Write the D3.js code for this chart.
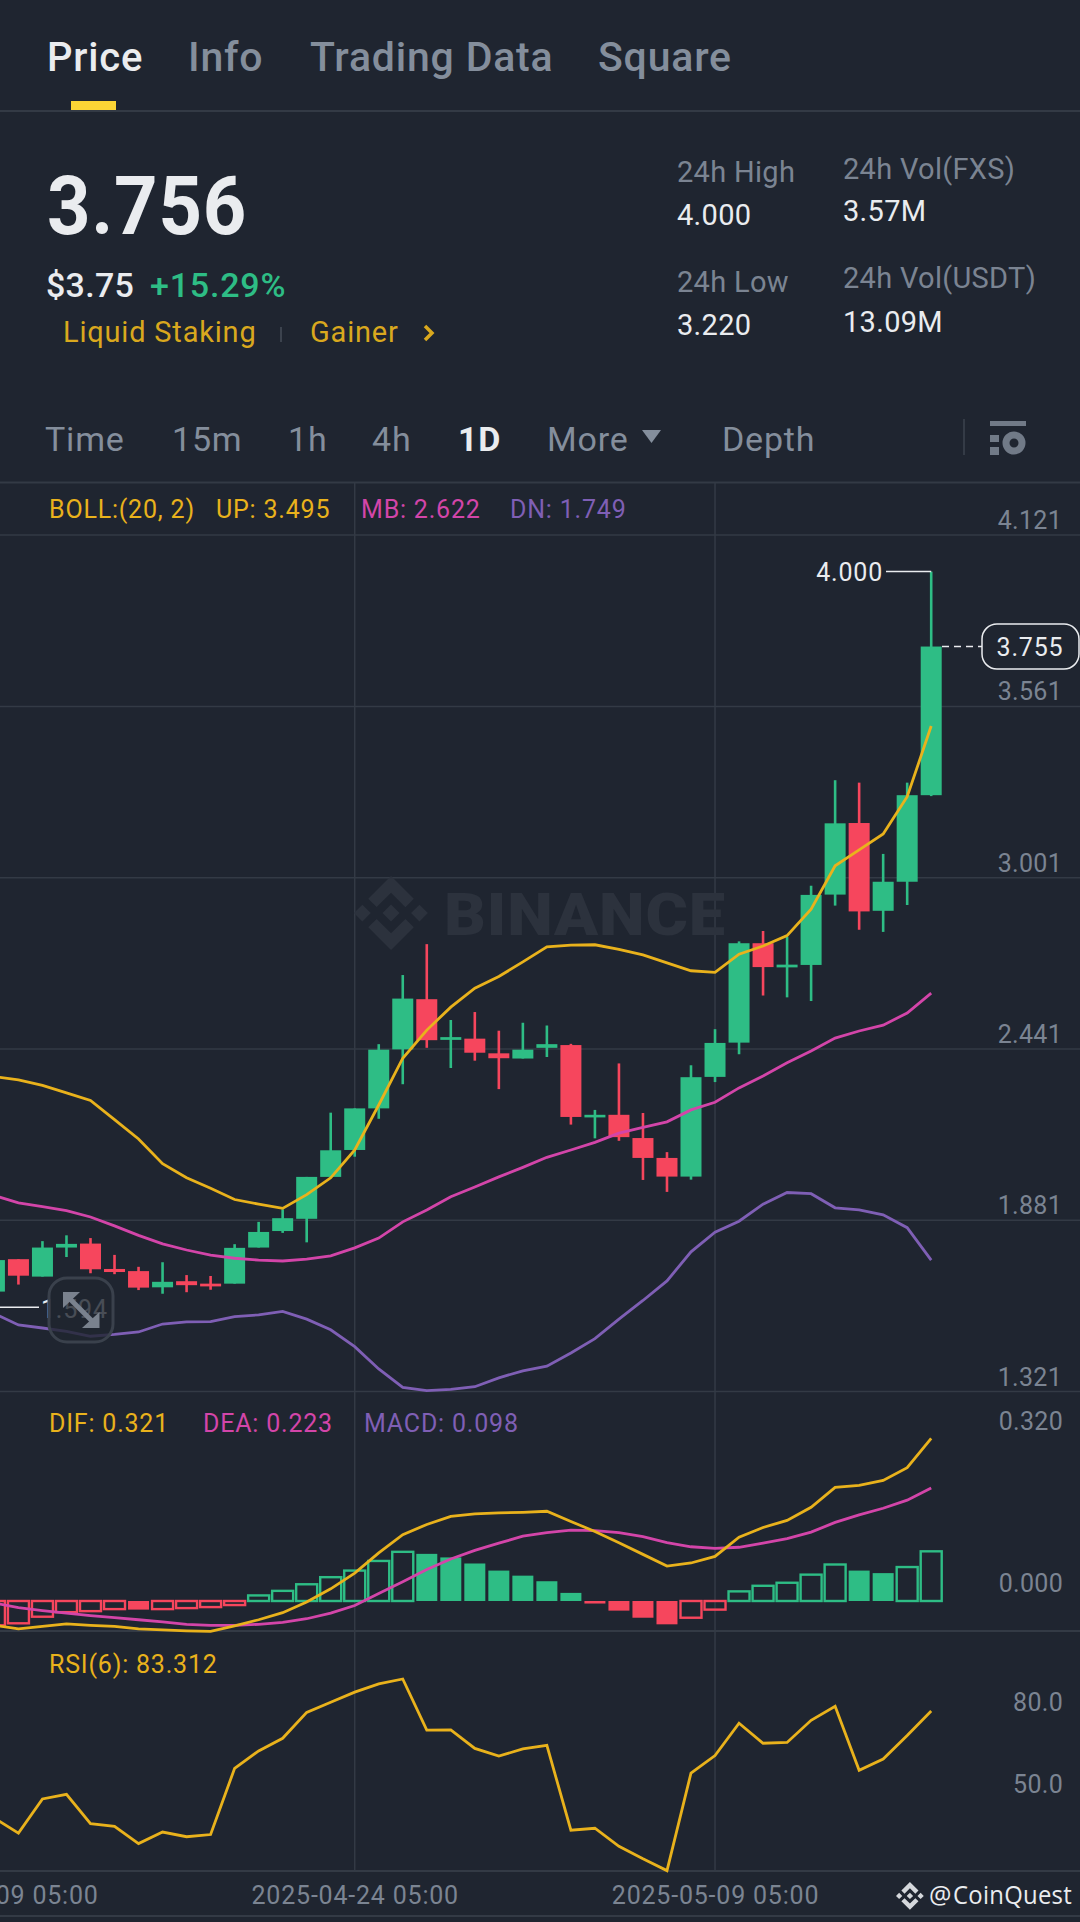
<!DOCTYPE html>
<html>
<head>
<meta charset="utf-8">
<title>FXS/USDT</title>
<script src="https://cdnjs.cloudflare.com/ajax/libs/d3/7.8.5/d3.min.js"></script>
<style>
html, body { margin: 0; padding: 0; background: #1f2530; }
svg { display: block; }
text { font-family: Roboto, sans-serif; letter-spacing: 0.8px; }
.flat text, text.flat { letter-spacing: 0.3px; }
</style>
</head>
<body>
<script>
//candle days, first one is off the left edge
var days = ["2025-04-08 05:00","2025-04-09 05:00","2025-04-10 05:00","2025-04-11 05:00","2025-04-12 05:00","2025-04-13 05:00","2025-04-14 05:00","2025-04-15 05:00","2025-04-16 05:00","2025-04-17 05:00","2025-04-18 05:00","2025-04-19 05:00","2025-04-20 05:00","2025-04-21 05:00","2025-04-22 05:00","2025-04-23 05:00","2025-04-24 05:00","2025-04-25 05:00","2025-04-26 05:00","2025-04-27 05:00","2025-04-28 05:00","2025-04-29 05:00","2025-04-30 05:00","2025-05-01 05:00","2025-05-02 05:00","2025-05-03 05:00","2025-05-04 05:00","2025-05-05 05:00","2025-05-06 05:00","2025-05-07 05:00","2025-05-08 05:00","2025-05-09 05:00","2025-05-10 05:00","2025-05-11 05:00","2025-05-12 05:00","2025-05-13 05:00","2025-05-14 05:00","2025-05-15 05:00","2025-05-16 05:00","2025-05-17 05:00","2025-05-18 05:00"];
var dateTicks = ["2025-04-09 05:00","2025-04-24 05:00","2025-05-09 05:00"];

var opens = [1.700,1.646,1.752,1.695,1.790,1.803,1.720,1.713,1.660,1.680,1.672,1.672,1.790,1.844,1.884,2.021,2.109,2.245,2.438,2.602,2.469,2.473,2.425,2.408,2.443,2.452,2.216,2.224,2.148,2.083,2.022,2.348,2.460,2.785,2.706,2.714,2.944,3.178,2.891,2.986,3.269];
var highs = [1.720,1.749,1.752,1.811,1.830,1.821,1.766,1.727,1.742,1.700,1.697,1.801,1.874,1.915,2.021,2.231,2.245,2.455,2.681,2.782,2.534,2.560,2.499,2.525,2.516,2.456,2.240,2.392,2.230,2.102,2.386,2.504,2.791,2.825,2.806,2.973,3.318,3.310,3.077,3.310,4.000];
var lows = [1.620,1.646,1.669,1.695,1.759,1.706,1.703,1.651,1.639,1.644,1.652,1.672,1.790,1.838,1.807,2.021,2.087,2.211,2.324,2.443,2.377,2.401,2.308,2.408,2.413,2.192,2.147,2.139,2.011,1.972,2.012,2.331,2.422,2.614,2.608,2.596,2.908,2.829,2.822,2.910,3.266];
var closes = [1.646,1.749,1.698,1.790,1.802,1.719,1.710,1.659,1.678,1.667,1.663,1.789,1.841,1.886,2.021,2.108,2.245,2.437,2.604,2.468,2.478,2.427,2.409,2.437,2.455,2.217,2.224,2.151,2.083,2.022,2.347,2.459,2.785,2.707,2.715,2.943,3.177,2.889,2.986,3.269,3.755];

var bollUp = [2.361,2.349,2.338,2.320,2.296,2.271,2.208,2.145,2.064,2.018,1.984,1.947,1.932,1.918,1.963,2.018,2.109,2.256,2.409,2.501,2.576,2.638,2.676,2.724,2.773,2.779,2.780,2.765,2.747,2.721,2.695,2.690,2.749,2.776,2.810,2.896,3.038,3.090,3.142,3.264,3.495];
var bollMid = [1.978,1.960,1.936,1.924,1.911,1.890,1.861,1.830,1.802,1.782,1.765,1.755,1.749,1.746,1.752,1.763,1.789,1.821,1.874,1.913,1.956,1.988,2.021,2.052,2.085,2.109,2.134,2.164,2.183,2.201,2.240,2.265,2.312,2.351,2.394,2.433,2.475,2.498,2.517,2.557,2.622];
var bollDn = [1.596,1.574,1.537,1.527,1.516,1.500,1.506,1.514,1.540,1.547,1.548,1.564,1.570,1.581,1.556,1.521,1.466,1.393,1.333,1.322,1.326,1.335,1.364,1.387,1.402,1.445,1.492,1.556,1.617,1.681,1.776,1.840,1.876,1.932,1.970,1.966,1.920,1.913,1.897,1.855,1.749];

var dif = [-0.044,-0.048,-0.055,-0.050,-0.045,-0.048,-0.050,-0.055,-0.057,-0.059,-0.060,-0.049,-0.037,-0.023,-0.002,0.024,0.055,0.095,0.131,0.151,0.167,0.172,0.174,0.175,0.177,0.157,0.137,0.115,0.092,0.069,0.075,0.088,0.126,0.145,0.159,0.185,0.224,0.228,0.238,0.263,0.321];
var dea = [0.003,-0.004,-0.013,-0.019,-0.024,-0.029,-0.033,-0.037,-0.041,-0.046,-0.048,-0.048,-0.046,-0.042,-0.035,-0.024,-0.009,0.015,0.038,0.062,0.083,0.100,0.114,0.128,0.135,0.140,0.139,0.135,0.127,0.115,0.107,0.104,0.106,0.114,0.123,0.136,0.155,0.170,0.183,0.199,0.223];
var macd = [-0.052,-0.048,-0.044,-0.031,-0.022,-0.020,-0.016,-0.017,-0.016,-0.014,-0.012,-0.008,0.011,0.020,0.033,0.047,0.060,0.079,0.097,0.093,0.086,0.074,0.060,0.050,0.039,0.016,-0.005,-0.019,-0.033,-0.046,-0.033,-0.017,0.019,0.030,0.036,0.052,0.072,0.060,0.055,0.067,0.098];
var rsi = [48.0,44.1,38.6,51.1,52.8,42.1,41.1,34.8,39.0,37.3,38.1,62.3,68.7,73.3,82.8,86.5,90.2,93.2,95.0,76.3,76.4,69.6,66.8,69.4,70.7,39.7,40.4,33.8,29.2,24.9,60.6,67.0,78.8,71.5,71.8,79.9,85.0,61.6,65.7,74.3,83.312];

var priceTicks = [4.121,3.561,3.001,2.441,1.881,1.321];
var macdTicks = [0.320,0.000];
var rsiTicks = [80.0,50.0];

//binance logo outline
var logoPath = "M38.73 53.2L63.3 28.63l24.6 24.6 14.3-14.3L63.3 0 24.42 38.88 38.73 53.2zM0 63.31l14.31-14.31 14.31 14.31-14.31 14.31zM38.73 73.41l24.58 24.59 24.59-24.59 14.31 14.29-.01.01L63.3 126.61 24.42 87.73l-.02-.02 14.33-14.3zM97.6 63.31l14.31-14.31 14.31 14.31-14.31 14.31zM77.83 63.3L63.31 48.78 52.58 59.51l-1.24 1.23-2.54 2.54 14.51 14.51 14.52-14.52z";

var width = 1080, height = 1922;
var bg = "#1f2530", gridColor = "#333a45", grey = "#848e9c", dimGrey = "#7b8492", white = "#eaecef",
    green = "#2ebd85", red = "#f6465d", yellow = "#e9b21c", pink = "#d345a9", purple = "#7f5fb5", gold = "#d9a81e";

var svg = d3.select("body").append("svg")
    .attr("width", width)
    .attr("height", height);

svg.append("rect").attr("width", width).attr("height", height).attr("fill", bg);

function addText(x, y, str, size, color, weight, anchor){
    return svg.append("text")
        .attr("x", x)
        .attr("y", y)
        .attr("font-size", size)
        .attr("fill", color)
        .attr("font-weight", weight || 400)
        .attr("text-anchor", anchor || "start")
        .text(str);
}

function hLine(y, x1, x2, color, w){
    return svg.append("line").attr("x1", x1).attr("x2", x2).attr("y1", y).attr("y2", y)
        .attr("stroke", color).attr("stroke-width", w);
}

//header tabs
addText(47, 71, "Price", 40, white, 500);
addText(188, 71, "Info", 41, grey, 500);
addText(310, 71, "Trading Data", 41, grey, 500);
addText(598, 71, "Square", 41, grey, 500);
svg.append("rect").attr("x", 71).attr("y", 101).attr("width", 45).attr("height", 9).attr("fill", "#fcd535");
hLine(111, 0, width, gridColor, 2);

//price block
addText(47, 234, "3.756", 82, white, 700)
    .attr("textLength", 200)
    .attr("lengthAdjust", "spacingAndGlyphs");
addText(46, 297, "$3.75", 34, white, 500).attr("class", "flat");
addText(150, 297, "+15.29%", 34, green, 500);
addText(63, 342, "Liquid Staking", 29, gold);
svg.append("line").attr("x1", 281).attr("x2", 281).attr("y1", 327).attr("y2", 342).attr("stroke", "#3c434e").attr("stroke-width", 2);
addText(310, 342, "Gainer", 29, gold);
svg.append("path").attr("d", "M425 326L432 333L425 340").attr("fill", "none").attr("stroke", gold).attr("stroke-width", 3.5);

var statLabels = [[677, 182, "24h High"], [843, 179, "24h Vol(FXS)"], [677, 292, "24h Low"], [843, 288, "24h Vol(USDT)"]];
var statValues = [[677, 225, "4.000"], [843, 221, "3.57M"], [677, 335, "3.220"], [843, 332, "13.09M"]];
statLabels.forEach(function(s){ addText(s[0], s[1], s[2], 29, dimGrey).attr("class", "flat"); });
statValues.forEach(function(s){ addText(s[0], s[1], s[2], 29, white).attr("class", "flat"); });

//interval toolbar
addText(45, 451, "Time", 34, grey);
addText(172, 451, "15m", 34, grey);
addText(288, 451, "1h", 34, grey);
addText(372, 451, "4h", 34, grey);
addText(458, 451, "1D", 34, white, 700);
addText(547, 451, "More", 34, grey);
svg.append("path").attr("d", "M642 430H661L651.5 443Z").attr("fill", grey);
addText(722, 451, "Depth", 34, grey);
svg.append("line").attr("x1", 964).attr("x2", 964).attr("y1", 419).attr("y2", 455).attr("stroke", "#3c434e").attr("stroke-width", 1.5);
svg.append("rect").attr("x", 990).attr("y", 421).attr("width", 36).attr("height", 5).attr("fill", "#717a87");
svg.append("rect").attr("x", 990).attr("y", 435).attr("width", 9).attr("height", 7).attr("fill", "#717a87");
svg.append("rect").attr("x", 990).attr("y", 447).attr("width", 9).attr("height", 8).attr("fill", "#717a87");
svg.append("circle").attr("cx", 1014).attr("cy", 443).attr("r", 8).attr("fill", "none").attr("stroke", "#717a87").attr("stroke-width", 7);

hLine(482.5, 0, width, gridColor, 2);

//scales
var x = d3.scalePoint()
    .domain(days)
    .range([-29.6, 931.2]);
var y = d3.scaleLinear()
    .domain([1.321, 4.121])
    .range([1391, 534.6]);
var yMacd = d3.scaleLinear()
    .domain([0, 0.32])
    .range([1601, 1438.8]);
var yRsi = d3.scaleLinear()
    .domain([50, 80])
    .range([1802, 1720]);

//vertical grid lines for the dated ticks
svg.selectAll(".vGrid")
    .data(dateTicks.slice(1))
    .enter()
    .append("line")
    .attr("class", "vGrid")
    .attr("x1", function(d){ return x(d); })
    .attr("x2", function(d){ return x(d); })
    .attr("y1", 483)
    .attr("y2", 1871)
    .attr("stroke", gridColor)
    .attr("stroke-width", 1.5);

//price axis with horizontal grid
var priceAxis = svg.append("g")
    .attr("class", "flat")
    .attr("transform", "translate(" + width + ",0)")
    .call(d3.axisRight(y).tickValues(priceTicks).tickFormat(d3.format(".3f")).tickSize(-width));
priceAxis.select(".domain").remove();
priceAxis.selectAll(".tick line").attr("stroke", gridColor).attr("stroke-width", 1.5);
priceAxis.selectAll(".tick text")
    .attr("x", -18)
    .attr("dy", -6)
    .attr("text-anchor", "end")
    .attr("fill", dimGrey)
    .attr("font-size", 25)
    .attr("font-family", "Roboto, sans-serif");

//watermark
svg.append("path")
    .attr("d", logoPath)
    .attr("transform", "translate(354,876) scale(0.585)")
    .attr("fill", "#2c323d");
addText(444, 935, "BINANCE", 60, "#2c323d", 900)
    .attr("textLength", 282)
    .attr("lengthAdjust", "spacingAndGlyphs");

//candles
var candleData = days.map(function(d, i){
    return {day: d, open: opens[i], high: highs[i], low: lows[i], close: closes[i]};
});
function candleColor(d){ return d.close >= d.open ? green : red; }

svg.selectAll(".wick")
    .data(candleData)
    .enter()
    .append("line")
    .attr("class", "wick")
    .attr("x1", function(d){ return x(d.day); })
    .attr("x2", function(d){ return x(d.day); })
    .attr("y1", function(d){ return y(d.high); })
    .attr("y2", function(d){ return y(d.low); })
    .attr("stroke", candleColor)
    .attr("stroke-width", 2.6);

svg.selectAll(".body")
    .data(candleData)
    .enter()
    .append("rect")
    .attr("class", "body")
    .attr("x", function(d){ return x(d.day) - 10.5; })
    .attr("width", 21)
    .attr("y", function(d){ return y(Math.max(d.open, d.close)); })
    .attr("height", function(d){ return Math.max(2.6, Math.abs(y(d.open) - y(d.close))); })
    .attr("fill", candleColor);

function drawLine(values, scale, color){
    var line = d3.line()
        .x(function(d, i){ return x(days[i]); })
        .y(function(d){ return scale(d); });
    svg.append("path")
        .datum(values)
        .attr("d", line)
        .attr("fill", "none")
        .attr("stroke", color)
        .attr("stroke-width", 2.8);
}

drawLine(bollDn, y, purple);
drawLine(bollMid, y, pink);
drawLine(bollUp, y, yellow);

//legend for boll
addText(49, 518, "BOLL:(20, 2)", 25, yellow);
addText(216, 518, "UP: 3.495", 25, yellow);
addText(361, 518, "MB: 2.622", 25, pink);
addText(510, 518, "DN: 1.749", 25, purple);

//high and low marks
hLine(y(4.000), 886, x(days[40]), white, 1.5);
addText(883, 581, "4.000", 25, white, 400, "end");
hLine(y(1.595), 0, 39, white, 1.5);
addText(41, 1318, "1.594", 25, white);

//expand button sits over the low label
svg.append("rect")
    .attr("x", 49).attr("y", 1278).attr("width", 64).attr("height", 64).attr("rx", 18)
    .attr("fill", bg).attr("fill-opacity", 0.8)
    .attr("stroke", "#3a414c").attr("stroke-width", 3);
svg.append("path")
    .attr("d", "M63 1292H80L63 1308ZM99.5 1328V1312L82 1328Z")
    .attr("fill", "#7a828e");
svg.append("line")
    .attr("x1", 70).attr("y1", 1299).attr("x2", 92).attr("y2", 1321)
    .attr("stroke", "#7a828e").attr("stroke-width", 5);

//last price tag
svg.append("line")
    .attr("x1", 942).attr("x2", 982).attr("y1", y(3.755)).attr("y2", y(3.755))
    .attr("stroke", white).attr("stroke-width", 1.5).attr("stroke-dasharray", "7 5");
svg.append("rect")
    .attr("x", 982).attr("y", 624).attr("width", 97).attr("height", 45).attr("rx", 15)
    .attr("fill", bg).attr("stroke", white).attr("stroke-width", 1.5);
addText(1030, 656, "3.755", 25, white, 400, "middle");

//macd panel
hLine(1631, 0, width, gridColor, 2);
addText(49, 1432, "DIF: 0.321", 25, yellow);
addText(203, 1432, "DEA: 0.223", 25, pink);
addText(364, 1432, "MACD: 0.098", 25, purple);

var macdAxis = svg.append("g")
    .attr("class", "flat")
    .attr("transform", "translate(" + width + ",0)")
    .call(d3.axisRight(yMacd).tickValues(macdTicks).tickFormat(d3.format(".3f")).tickSize(0));
macdAxis.select(".domain").remove();
macdAxis.selectAll(".tick text")
    .attr("x", -17)
    .attr("dy", -9.3)
    .attr("text-anchor", "end")
    .attr("fill", dimGrey)
    .attr("font-size", 25)
    .attr("font-family", "Roboto, sans-serif");

//hollow bars are the ones rising against the day before
svg.selectAll(".macdBar")
    .data(macd)
    .enter()
    .append("rect")
    .attr("class", "macdBar")
    .attr("x", function(d, i){ return x(days[i]) - 10.5; })
    .attr("width", 21)
    .attr("y", function(d){ return yMacd(Math.max(d, 0)); })
    .attr("height", function(d){ return Math.abs(yMacd(d) - yMacd(0)); })
    .attr("fill", function(d, i){
        var rising = i > 0 && d > macd[i - 1];
        return rising ? "none" : (d >= 0 ? green : red);
    })
    .attr("stroke", function(d, i){
        var rising = i > 0 && d > macd[i - 1];
        return rising ? (d >= 0 ? green : red) : "none";
    })
    .attr("stroke-width", 2.4);

drawLine(dea, yMacd, pink);
drawLine(dif, yMacd, yellow);

//rsi panel
hLine(1871, 0, width, gridColor, 2);
addText(49, 1673, "RSI(6): 83.312", 25, yellow);

var rsiAxis = svg.append("g")
    .attr("class", "flat")
    .attr("transform", "translate(" + width + ",0)")
    .call(d3.axisRight(yRsi).tickValues(rsiTicks).tickFormat(d3.format(".1f")).tickSize(0));
rsiAxis.select(".domain").remove();
rsiAxis.selectAll(".tick text")
    .attr("x", -17)
    .attr("dy", -9.3)
    .attr("text-anchor", "end")
    .attr("fill", dimGrey)
    .attr("font-size", 25)
    .attr("font-family", "Roboto, sans-serif");

drawLine(rsi, yRsi, yellow);

//date axis, first label runs off the left edge like on the phone
var dateAxis = svg.append("g")
    .attr("transform", "translate(0,1871)")
    .call(d3.axisBottom(x).tickValues(dateTicks).tickSize(0));
dateAxis.select(".domain").remove();
dateAxis.selectAll(".tick text")
    .attr("y", 33)
    .attr("dy", 0)
    .attr("fill", dimGrey)
    .attr("font-size", 25)
    .attr("font-family", "Roboto, sans-serif");
hLine(1916, 0, width, gridColor, 2);

//coinquest badge
svg.append("path")
    .attr("d", logoPath)
    .attr("transform", "translate(896,1882) scale(0.22)")
    .attr("fill", "#d5d8dc");
addText(929, 1904, "@", 25, white).attr("class", "flat").style("font-family", "'Open Sans'");
addText(953, 1904, "CoinQuest", 25, white)
    .attr("class", "flat")
    .attr("textLength", 119)
    .attr("lengthAdjust", "spacingAndGlyphs")
    .style("font-family", "'Open Sans'");
</script>
</body>
</html>
